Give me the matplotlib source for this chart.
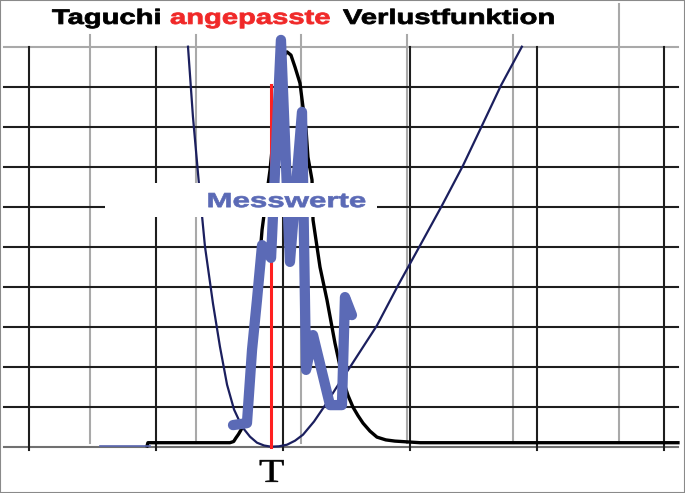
import matplotlib
matplotlib.use("Agg")
import matplotlib.pyplot as plt
from matplotlib.patches import Rectangle
from matplotlib.patheffects import AbstractPathEffect
from matplotlib.transforms import Affine2D

# ---------------- data (chart units: black grid spacing = 1) ----------------
black_grid_x = [0, 1, 2, 3, 4, 5]
black_grid_y = [1, 2, 3, 4, 5, 6, 7, 8, 9]
gray_grid_x = [0.477, 1.311, 2.145, 2.980, 3.814, 4.649]
grid_top = 10
grid_bottom = 0

# Taguchi loss function (navy), left and right branch
loss_x = [1.250, 1.289, 1.337, 1.384, 1.447, 1.502, 1.558, 1.613, 1.676,
          1.739, 1.794, 1.850, 1.905,
          1.968, 2.031, 2.094, 2.157, 2.244, 2.330, 2.425, 2.536, 2.638,
          2.740, 2.906, 3.080, 3.253, 3.419, 3.569, 3.718, 3.883]
loss_y = [10.0, 8.25, 6.55, 5.00, 3.58, 2.50, 1.55, 0.93, 0.50,
          0.25, 0.10, 0.03, 0.00,
          0.01, 0.05, 0.15, 0.30, 0.63, 1.03, 1.50, 2.03, 2.53,
          3.03, 4.03, 5.03, 6.03, 7.03, 8.03, 9.03, 10.0]
floor_x = [0.556, 0.950]
floor_y = [0.02, 0.02]

# distribution curve (black)
dist_x = [0.927, 0.934, 1.581, 1.610, 1.628, 1.648, 1.668, 1.688, 1.707,
          1.739, 1.770, 1.802, 1.834, 1.865, 1.897, 1.936, 1.968, 1.999,
          2.031, 2.062, 2.094, 2.133, 2.157, 2.181, 2.196, 2.228, 2.236,
          2.291, 2.346, 2.409, 2.472, 2.512, 2.551, 2.590, 2.630, 2.685,
          2.740, 2.810, 2.882, 3.080, 5.114]
dist_y = [0.02, 0.10, 0.10, 0.13, 0.22, 0.31, 0.42, 0.58, 0.79,
          1.42, 2.67, 4.17, 5.42, 6.17, 6.92, 8.17, 9.17, 9.74,
          9.87, 9.79, 9.49, 9.09, 8.49, 7.92, 7.24, 6.67, 5.67,
          4.49, 3.67, 2.59, 1.67, 1.28, 0.99, 0.78, 0.59, 0.39,
          0.24, 0.17, 0.14, 0.10, 0.10]

# measured values (blue)
meas_x = [1.605, 1.715, 1.755, 1.794, 1.834, 1.905, 1.983, 2.054, 2.149,
          2.181, 2.236, 2.370, 2.464, 2.488, 2.543]
meas_y = [0.54, 0.59, 2.42, 3.67, 5.04, 4.72, 10.17, 4.62, 8.37,
          1.92, 2.79, 1.04, 1.04, 3.74, 3.29]

target_x = 1.905
target_top = 9.05

title_parts = ["Taguchi", "angepasste", "Verlustfunktion"]
title_colors = ["black", "#f02828", "black"]
label_meas = "Messwerte"
label_target = "T"


class Stretch(AbstractPathEffect):
    """Stretch text horizontally (the reference is a horizontally stretched image)."""
    def __init__(self, sx, lw=0.0):
        super().__init__()
        self.sx = sx
        self.lw = lw

    def draw_path(self, renderer, gc, tpath, affine, rgbFace=None):
        aff = Affine2D().scale(self.sx, 1.0) + affine
        if self.lw and rgbFace is not None:
            gc0 = renderer.new_gc()
            gc0.copy_properties(gc)
            gc0.set_linewidth(self.lw)
            gc0.set_foreground(rgbFace)
            gc0.set_joinstyle("round")
            renderer.draw_path(gc0, tpath, aff, rgbFace)
            gc0.restore()
        else:
            renderer.draw_path(gc, tpath, aff, rgbFace)


fig = plt.figure(figsize=(6.85, 4.93), dpi=100)
ax = fig.add_axes([0, 0, 1, 1])
ax.set_xlim(-0.2326, 5.1695)
ax.set_ylim(-1.1575, 11.1675)
ax.axis("off")

left_end, right_end = -0.201, 5.114
BLACK = "#1e1e1e"
GRAY = "#a9a9a9"

# gray grid
for i, gx in enumerate(gray_grid_x):
    top = 11.07 if i == len(gray_grid_x) - 1 else 10.29
    ax.plot([gx, gx], [0.09, top], color=GRAY, lw=1.5, zorder=1)
ax.plot([left_end, right_end], [grid_top, grid_top], color=GRAY, lw=1.5, zorder=1)

# black grid
for gy in black_grid_y:
    ax.plot([left_end, right_end], [gy, gy], color=BLACK, lw=1.5, zorder=1.5)
ax.plot([left_end, right_end], [grid_bottom, grid_bottom], color="#707070", lw=1.5, zorder=1.5)
for gx in black_grid_x:
    ax.plot([gx, gx], [-0.08, 9.99], color=BLACK, lw=1.5, zorder=1.5)

# curves
ax.plot(dist_x, dist_y, color="black", lw=2.4, zorder=2, solid_joinstyle="round")
ax.plot(loss_x, loss_y, color="#1b1f5e", lw=1.6, zorder=2.5, solid_joinstyle="round")
ax.plot(floor_x, floor_y, color="#5a66b0", lw=1.2, zorder=2.5)
ax.plot([target_x, target_x], [0, target_top], color="#ff2020", lw=2.2, zorder=3)
ax.plot(meas_x, meas_y, color="#5b6ab6", lw=7.4, zorder=4,
        solid_capstyle="round", solid_joinstyle="round")

# label box
ax.add_patch(Rectangle((0.595, 5.74), 2.146, 0.85, facecolor="white",
                       edgecolor="none", zorder=5))
ax.text(1.396, 5.99, label_meas, color="#5b6ab6", fontsize=14.7,
        family="Liberation Sans", fontweight="bold", ha="left", va="baseline",
        zorder=6, path_effects=[Stretch(1.53, 0.5)])

# T label
ax.text(1.810, -0.88, label_target, color="black", fontsize=24,
        family="Liberation Serif", ha="left", va="baseline", zorder=6,
        path_effects=[Stretch(1.25, 0.3)])

# title
for s, c, x0 in zip(title_parts, title_colors, [0.177, 1.108, 2.472]):
    ax.text(x0, 10.57, s, color=c, fontsize=15, family="Liberation Sans",
            fontweight="bold", ha="left", va="baseline", zorder=6,
            path_effects=[Stretch(1.40, 0.6)])

fig.patches.append(Rectangle((0, 0), 1, 1, transform=fig.transFigure, fill=False,
                             edgecolor="#8a8a8a", lw=1.5, zorder=10))

fig.savefig("out.png", dpi=100)
